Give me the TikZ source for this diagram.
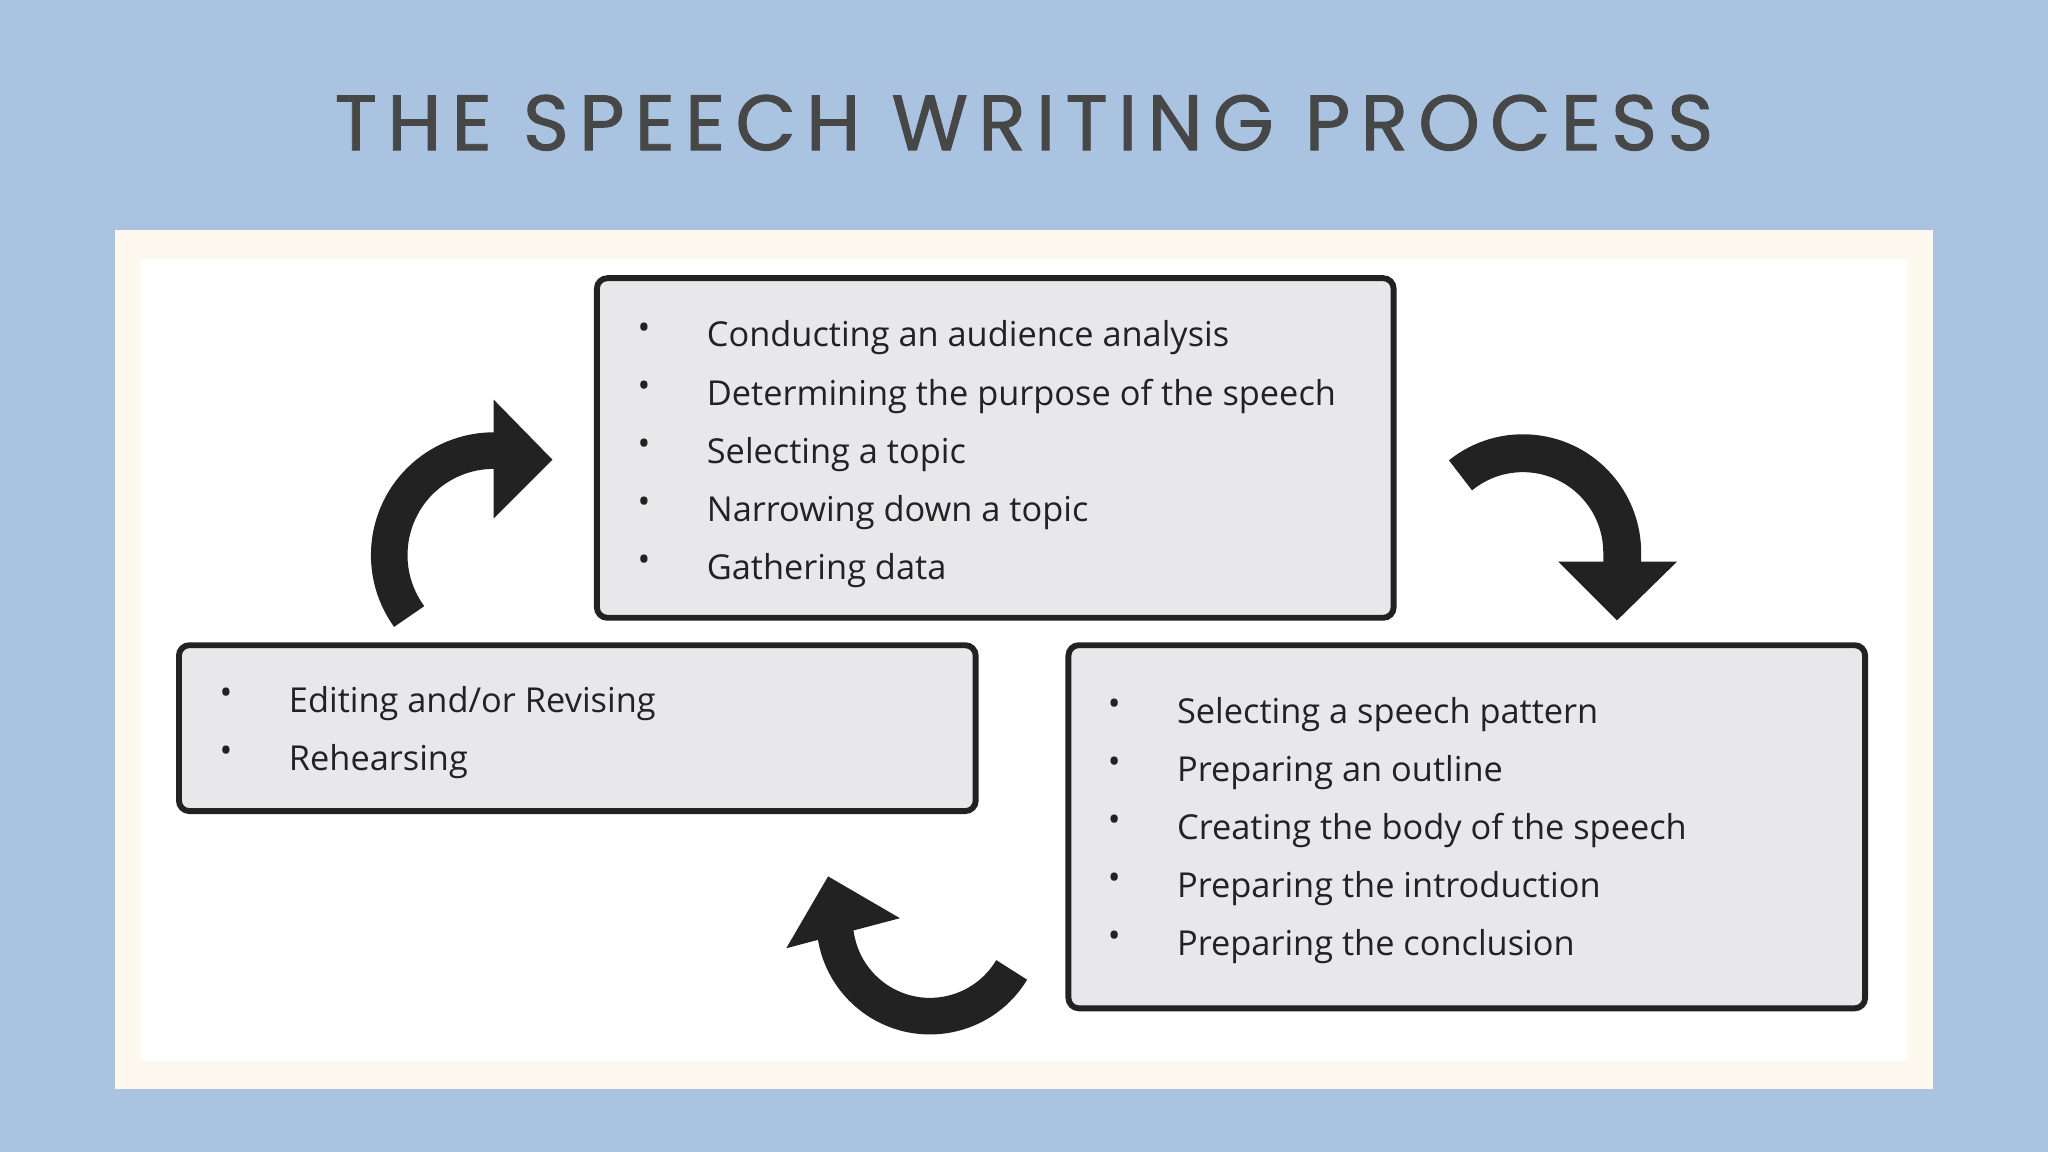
\documentclass[tikz,border=0pt]{standalone}
\usetikzlibrary{calc}
\usepackage{fontspec}
\setmainfont{Open Sans}
\newfontfamily\titlefont[LetterSpace=13,FakeBold=1.2]{Poppins}
\definecolor{bgblue}{HTML}{A9C3E1}
\definecolor{cream}{HTML}{FDF9EE}
\definecolor{boxfill}{HTML}{E8E7EA}
\definecolor{ink}{HTML}{222222}
\definecolor{titlecol}{HTML}{474747}
\begin{document}
\begin{tikzpicture}[x=1pt,y=1pt,
  box/.style={draw=ink,line width=4.5pt,fill=boxfill,rounded corners=8pt},
  item/.style={anchor=mid west,inner sep=0pt,font=\fontsize{26.3}{30}\selectfont,text=ink},
  bul/.style={anchor=mid,inner sep=0pt,font=\fontsize{26}{30}\selectfont,text=ink},
  band/.style={draw=ink,line width=28pt},
  head/.style={fill=ink}]
\fill[bgblue] (0,0) rectangle (1568,882);
\useasboundingbox (0,0) rectangle (1568,882);
\fill[cream] (88,48) rectangle (1480,706);
\fill[white] (108,70) rectangle (1460,684);
\node[font=\titlefont\fontsize{60}{70}\selectfont,text=titlecol] (title) at (784,788) {THE SPEECH WRITING PROCESS};
% boxes
\draw[box] (457,409) rectangle (1067,669);
\draw[box] (137,261) rectangle (747,388);
\draw[box] (818,110) rectangle (1428,388);
% top box items
\foreach \t [count=\i] in {Conducting an audience analysis,Determining the purpose of the speech,Selecting a topic,Narrowing down a topic,Gathering data}{
  \node[bul] (tb\i) at (493,{882-257-(\i-1)*44.5}) {•};
  \node[item] (tt\i) at (541,{882-263-(\i-1)*44.5}) {\t};
}
\foreach \t [count=\i] in {Editing and/or Revising,Rehearsing}{
  \node[bul] (lb\i) at (173,{882-537-(\i-1)*44.5}) {•};
  \node[item] (lt\i) at (221,{882-543-(\i-1)*44.5}) {\t};
}
\foreach \t [count=\i] in {Selecting a speech pattern,Preparing an outline,Creating the body of the speech,Preparing the introduction,Preparing the conclusion}{
  \node[bul] (rb\i) at (853,{882-545-(\i-1)*44.5}) {•};
  \node[item] (rt\i) at (901,{882-551-(\i-1)*44.5}) {\t};
}
% arrows
\draw[band] ($(378,457)+(216:80)$) arc[start angle=216,end angle=89,radius=80];
\fill[head] (378,576) -- (423,530) -- (378,485) -- cycle;
\draw[band,line width=29pt] ($(1166,459)+(129:76)$) arc[start angle=129,end angle=0,radius=76] -- (1242,450);
\fill[head] (1193,452) -- (1284,452) -- (1238,407) -- cycle;
\draw[band] ($(712,177)+(-31:73)$) arc[start angle=-31,end angle=-178,radius=73];
\fill[head] (634,211) -- (602,156) -- (689,179) -- cycle;
\end{tikzpicture}
\end{document}
